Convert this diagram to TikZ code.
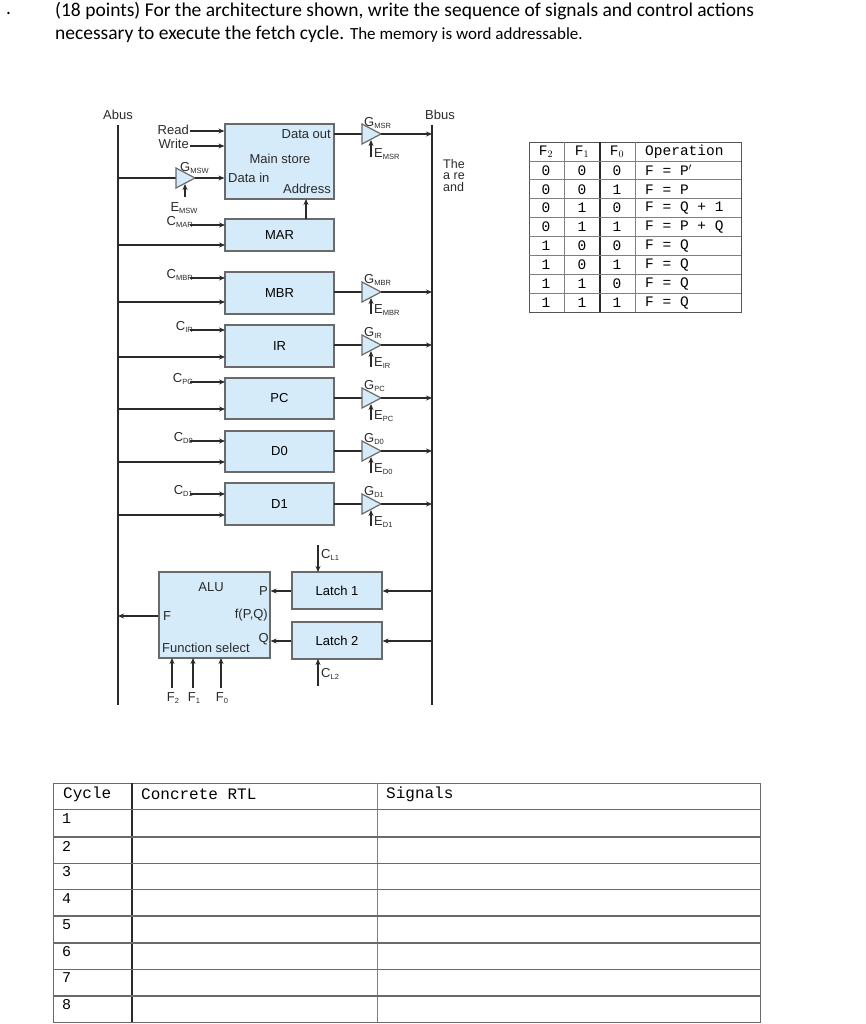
\documentclass[tikz,border=0pt]{standalone}
\usepackage{fontspec}
\setmainfont{Liberation Sans}
\newfontfamily\calib{Carlito}
\newfontfamily\mono{Liberation Mono}
\usetikzlibrary{arrows.meta}
\definecolor{regfill}{HTML}{D5EBFA}
\definecolor{ink}{HTML}{2A2A2A}
\newcommand\sbl[2]{#1\raisebox{-2.5pt}{\fontsize{7.5}{7.5}\selectfont #2}}
\newcommand\bufx[2]{\draw[bufst] (#1,{#2-10}) -- ({#1+19},#2) -- (#1,{#2+10}) -- cycle;}
\begin{document}
\begin{tikzpicture}[x=1pt,y=-1pt,
  reg/.style={draw=ink!70,line width=1.2pt,fill=regfill,minimum width=109pt,inner sep=0pt,font=\fontsize{13}{13}\selectfont},
  arr/.style={draw=ink,line width=1.8pt,-{Stealth[length=6pt,width=5pt]}},
  bus/.style={draw=ink,line width=2pt},
  bufst/.style={draw=ink!70,line width=1.2pt,fill=regfill},
  lab/.style={font=\fontsize{13}{13}\selectfont,inner sep=0pt,text=ink},
  tm/.style={font=\mono\fontsize{14.5}{14.5}\selectfont,inner sep=0pt}]
\useasboundingbox (0,0) rectangle (865,1024);
% title
\node[anchor=west,inner sep=0,font=\calib\fontsize{19.5}{19.5}\selectfont] (dot) at (6,13) {.};
\node[anchor=west,inner sep=0,font=\calib\fontsize{19.5}{19.5}\selectfont] (t1) at (55,11) {(18 points) For the architecture shown, write the sequence of signals and control actions};
\node[anchor=west,inner sep=0,font=\calib\fontsize{19.5}{19.5}\selectfont] (t2) at (55,34) {necessary to execute the fetch cycle. {\fontsize{17}{17}\selectfont The memory is word addressable.}};
% buses
\coordinate (at) at (118,125); \coordinate (ab) at (118,705);
\coordinate (bt) at (432,125); \coordinate (bb) at (432,705);
\draw[bus] (at) -- (ab); \draw[bus] (bt) -- (bb);
\node[lab] (abus) at (118,115) {Abus};
\node[lab] (bbus) at (440,115) {Bbus};
% main store
\node[reg,minimum height=75pt] (MS) at (279.5,161.5) {};
\node[lab,anchor=east] (dout) at (331,134) {Data out};
\node[lab] (mst) at (280,159) {Main store};
\node[lab,anchor=west] (din) at (228,178) {Data in};
\node[lab,anchor=east] (addr) at (331,189) {Address};
\coordinate (rd) at (190,131); \coordinate (wr) at (190,146);
\draw[arr] (rd) -- (rd -| MS.west); \draw[arr] (wr) -- (wr -| MS.west);
\node[lab,anchor=east] (rdl) at (189,130) {Read};
\node[lab,anchor=east] (wrl) at (189,144) {Write};
% MSW buffer
\coordinate (mswa) at (118,178);
\draw[ink,line width=1.8pt] (mswa) -- (176,178);
\bufx{176}{178}
\draw[arr] (195,178) -- (MS.west |- 178,178);
\node[lab,anchor=west] (gmsw) at (180,168) {\sbl{G}{MSW}};
\coordinate (emsw) at (185,197);
\draw[arr] (emsw) -- (185,184);
\node[lab] (emswl) at (184,208) {\sbl{E}{MSW}};
% MAR
\node[reg,minimum height=32pt] (MAR) at (279.5,235) {MAR};
\draw[arr] (190,225) -- (225,225);
\node[lab,anchor=east] at (193,222) {\sbl{C}{MAR}};
\draw[arr] (118,245) -- (225,245);
\draw[arr] (306,219) -- (306,199);
% MSR buffer
\draw[ink,line width=1.8pt] (334,134) -- (362,134);
\bufx{362}{134}
\draw[arr] (381,134) -- (bt |- 0,134);
\node[lab,anchor=west] at (364,123) {\sbl{G}{MSR}};
\draw[arr] (371,157) -- (371,140);
\node[lab,anchor=west] at (374,154) {\sbl{E}{MSR}};
\node[lab,anchor=west,font=\fontsize{12.5}{10}\selectfont] (the) at (443,164) {The};
\node[lab,anchor=west,font=\fontsize{12.5}{10}\selectfont] (are) at (443,176) {a re};
\node[lab,anchor=west,font=\fontsize{12.5}{10}\selectfont] (and) at (443,187) {and};
% registers
\foreach \n/\t/\b/\c/\a/\g in {MBR/272/314/278/302/292, IR/325/367/330/357/345, PC/378/419/382/409/398, D0/431/472/441/462/451, D1/483/525/494/515/504}{
  \node[reg,minimum height={\b-\t}] (\n) at (279.5,{(\t+\b)/2}) {\n};
  \draw[arr] (190,\c) -- (225,\c);
  \node[lab,anchor=east] at (193,{\c-3}) {\sbl{C}{\n}};
  \draw[arr] (118,\a) -- (225,\a);
  \draw[ink,line width=1.8pt] (334,\g) -- (362,\g);
  \bufx{362}{\g}
  \draw[arr] (381,\g) -- (432,\g);
  \node[lab,anchor=west] at (364,{\g-12}) {\sbl{G}{\n}};
  \draw[arr] (371,{\g+22}) -- (371,{\g+6});
  \node[lab,anchor=west] at (374,{\g+18}) {\sbl{E}{\n}};
}
% ALU
\node[reg,minimum width=111pt,minimum height=86pt] (ALU) at (214.5,615) {};
\node[lab] at (211,587) {ALU};
\node[lab,anchor=east] at (268,591) {P};
\node[lab,anchor=east] at (268,615) {f(P,Q)};
\node[lab,anchor=west] at (163,616) {F};
\node[lab,anchor=east] at (269,639) {Q};
\node[lab,anchor=west] at (162,648) {Function select};
\node[reg,minimum width=90pt,minimum height=37pt] (L1) at (337,590.5) {Latch 1};
\node[reg,minimum width=90pt,minimum height=37pt] (L2) at (337,640.5) {Latch 2};
\draw[arr] (432,591) -- (L1.east |- 0,591);
\draw[arr] (432,641) -- (L2.east |- 0,641);
\draw[arr] (L1.west |- 0,591) -- (ALU.east |- 0,591);
\draw[arr] (L2.west |- 0,641) -- (ALU.east |- 0,641);
\draw[arr] (ALU.west |- 0,616) -- (118,616);
\coordinate (cl1) at (318,545); \coordinate (cl2) at (318,686);
\draw[arr] (cl1) -- (318,572);
\draw[arr] (cl2) -- (318,659);
\node[lab,anchor=west] at (321,555) {\sbl{C}{L1}};
\node[lab,anchor=west] at (321,674) {\sbl{C}{L2}};
\foreach \x/\s in {172/2,193/1,221/0}{
  \draw[arr] (\x,688) -- (\x,658);
  \node[lab] at ({\x+1},698) {\sbl{F}{\s}};
}
% function table
\draw[ink!80,line width=0.8pt] (529,142) rectangle (741,312);
\foreach \x in {564,635} \draw[ink!60,line width=0.6pt] (\x,142) -- (\x,312);
\draw[ink,line width=1.4pt] (600,142) -- (600,312);
\foreach \i in {1,...,8} \draw[ink!60,line width=0.6pt] (529,{142+18.9*\i}) -- (741,{142+18.9*\i});
\node[tm] at (546,151.5) {F$_2$};
\node[tm] at (582,151.5) {F$_1$};
\node[tm] at (617,151.5) {F$_0$};
\node[tm,anchor=west] at (645,151.5) {Operation};
\foreach \a/\b/\c/\op [count=\i] in {0/0/0/{F = P$'$},0/0/1/{F = P},0/1/0/{F = Q + 1},0/1/1/{F = P + Q},1/0/0/{F = Q},1/0/1/{F = Q},1/1/0/{F = Q},1/1/1/{F = Q}}{
  \node[tm] at (546,{151.5+18.9*\i}) {\a};
  \node[tm] at (582,{151.5+18.9*\i}) {\b};
  \node[tm] at (617,{151.5+18.9*\i}) {\c};
  \node[tm,anchor=west] at (645,{151.5+18.9*\i}) {\op};
}
% bottom table
\draw[ink!70,line width=0.7pt] (53,783) rectangle (760,1022);
\draw[ink,line width=1.3pt] (132,783) -- (132,1022);
\draw[ink!60,line width=0.6pt] (377,783) -- (377,1022);
\foreach \y/\w in {809/0.7,837/1.2,863/0.8,889/0.8,916/1.4,943/1.2,969/0.8,996/1.4}
  \draw[ink!70,line width=\w pt] (53,\y) -- (760,\y);
\node[tm,anchor=west,font=\mono\fontsize{16}{16}\selectfont] at (63,794) {Cycle};
\node[tm,anchor=west,font=\mono\fontsize{16}{16}\selectfont] at (141,794) {Concrete RTL};
\node[tm,anchor=west,font=\mono\fontsize{16}{16}\selectfont] at (386,794) {Signals};
\foreach \y [count=\i] in {819,846,872,899,925,952,978,1005}
  \node[tm,anchor=west,font=\mono\fontsize{15}{15}\selectfont] at (62,\y) {\i};
\end{tikzpicture}
\end{document}
